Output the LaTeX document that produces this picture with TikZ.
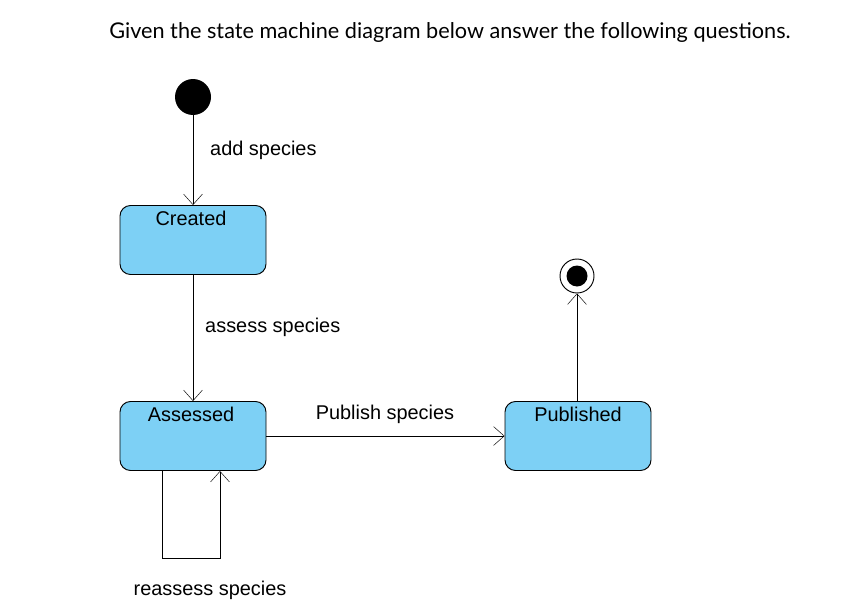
\documentclass[tikz,border=0pt]{standalone}
\usepackage{fontspec}
\setmainfont{Liberation Sans}
\newfontfamily\titlefont{Lato}
\usetikzlibrary{arrows.meta,positioning}
\definecolor{stateblue}{HTML}{7DD0F5}
\begin{document}
\begin{tikzpicture}[x=0.03cm, y=-0.03cm, >={Straight Barb[length=9pt,width=16pt]},
  state/.style={draw, thick, fill=stateblue, rounded corners=9pt, minimum width=146*0.03cm, minimum height=69*0.03cm, inner sep=0pt},
  lbl/.style={font=\fontsize{17}{20}\selectfont, inner sep=0pt}]
\useasboundingbox (0,0) rectangle (866,616);

% Title
\node[font=\titlefont\fontsize{18.5}{22}\selectfont, inner sep=0pt] (title) at (450,32) {Given the state machine diagram below answer the following questions.};

% Initial and final states
\fill (193,97) circle (18) coordinate (init);
\node[circle, draw, thick, fill=white, minimum size=34*0.03cm, inner sep=0pt] (final) at (577,276) {};
\fill (final) circle (10.5);

% States
\node[state] (created) at (193,240) {};
\node[state] (assessed) at (193,436) {};
\node[state] (published) at (578,436) {};
\node[lbl] at (191,218) {Created};
\node[lbl] at (191,414) {Assessed};
\node[lbl] at (578,414) {Published};

% Transitions
\draw[->] (init) -- (created.north);
\node[lbl, anchor=west] at (210,150) {add species};
\draw[->] (created.south) -- (assessed.north);
\node[lbl, anchor=west] at (205,327) {assess species};
\draw[->] (assessed.east) -- (published.west);
\node[lbl] at (385,414) {Publish species};
\draw[->] (published.north -| final) -- (final.south);

% Self loop
\draw[->] (assessed.south -| 162,0) -- (162,558) -- (220,558) -- (assessed.south -| 220,0);
\node[lbl] at (210,590) {reassess species};
\end{tikzpicture}
\end{document}
